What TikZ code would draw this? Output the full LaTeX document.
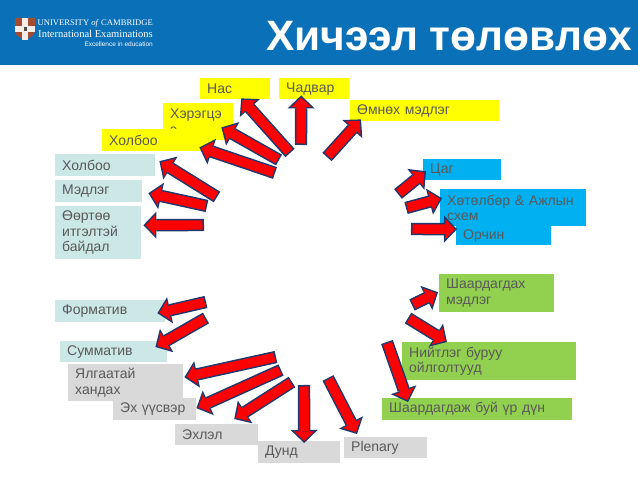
\documentclass[tikz,border=0pt]{standalone}
\usepackage{fontspec}
\setmainfont{Liberation Sans}
\newfontfamily\crestfont{Liberation Serif}
\usetikzlibrary{arrows.meta}
\definecolor{HeaderBlue}{RGB}{10,112,184}
\definecolor{LabelGray}{RGB}{89,89,89}
\definecolor{BoxYellow}{RGB}{255,255,0}
\definecolor{BoxTeal}{RGB}{204,232,230}
\definecolor{BoxGray}{RGB}{217,217,217}
\definecolor{BoxBlue}{RGB}{0,176,240}
\definecolor{BoxGreen}{RGB}{146,208,80}
\definecolor{ArrowNavy}{RGB}{31,56,110}
\definecolor{ShieldBrown}{RGB}{165,75,50}

\begin{document}
\begin{tikzpicture}[
                        x=1pt, y=-1pt,
                        planbox/.style={anchor=north west, inner xsep=7pt, inner ysep=0pt, align=left, text=LabelGray, font=\fontsize{14}{15.5}\selectfont},
                        yellowbox/.style={planbox, fill=BoxYellow},
                        tealbox/.style={planbox, fill=BoxTeal},
                        graybox/.style={planbox, fill=BoxGray},
                        bluebox/.style={planbox, fill=BoxBlue},
                        greenbox/.style={planbox, fill=BoxGreen},
                        redarrow/.style={draw=red, line width=9.4pt, shorten <=1.5pt, shorten >=2.1pt,
                            -{Triangle[length=9.6pt, width=20pt, line width=0pt]},
                            preaction={draw=ArrowNavy, line width=12.4pt, shorten <=0pt, shorten >=0pt,
                                -{Triangle[length=13pt, width=27pt, line width=0pt]}}},
                        crestline/.style={anchor=east, inner sep=0pt, text=white}
                    ]
                        \useasboundingbox (0,0) rectangle (638,478);
                        % header
                        \fill[HeaderBlue] (0,0) rectangle (638,65);
                        \fill[ShieldBrown] (15,18) -- (35,18) -- (35,31) .. controls (35,36) and (29,38) .. (25,40) .. controls (21,38) and (15,36) .. (15,31) -- cycle;
                        \fill[white!90!ShieldBrown] (22,18) rectangle (28,40);
                        \fill[white!90!ShieldBrown] (15,26) rectangle (35,32);
                        \fill[black!70] (23.5,27) rectangle (26.5,31);
                        \node[crestline, font=\crestfont\fontsize{8.6}{10}\selectfont] (crestone) at (153,23) {UNIVERSITY \textit{of} CAMBRIDGE};
                        \node[crestline, font=\crestfont\fontsize{10.55}{11}\selectfont] (cresttwo) at (153,33.5) {International Examinations};
                        \node[crestline, font=\fontsize{6.5}{8}\selectfont] (crestthree) at (153,44) {Excellence in education};
                        \node[anchor=east, inner sep=0pt, text=white, font=\fontsize{42.5}{44}\selectfont\bfseries] (title) at (632,36) {Хичээл төлөвлөх};
                        % yellow
                        \node[yellowbox, text width=56pt, minimum height=21pt] (nas) at (200,78) {Нас};
                        \node[yellowbox, text width=56pt, minimum height=21pt] (chadvar) at (279,78) {Чадвар};
                        \node[yellowbox, text width=135pt, minimum height=21pt] (omnokh) at (350,100) {Өмнөх мэдлэг};
                        \node[yellowbox, text width=56pt, minimum height=37pt] (kheregtse) at (163,103) {Хэрэгцэ\\э};
                        \node[yellowbox, text width=97pt, minimum height=22pt] (kholboob) at (102,129) {Холбоо};
                        % teal
                        \node[tealbox, text width=86pt, minimum height=22pt] (kholboo) at (55,154) {Холбоо};
                        \node[tealbox, text width=73pt, minimum height=22pt] (medleg) at (55,180) {Мэдлэг};
                        \node[tealbox, text width=72pt, minimum height=53pt] (oortoo) at (55,206) {Өөртөө\\итгэлтэй\\байдал};
                        \node[tealbox, text width=96pt, minimum height=22pt] (formativ) at (55,300) {Форматив};
                        \node[tealbox, text width=93pt, minimum height=21pt] (summativ) at (60,341) {Сумматив};
                        % gray
                        \node[graybox, text width=101pt, minimum height=37pt] (yalgaatai) at (68,364) {Ялгаатай\\хандах};
                        \node[graybox, text width=69pt, minimum height=22pt] (ekh) at (113,398) {Эх үүсвэр};
                        \node[graybox, text width=69pt, minimum height=21pt] (ekhlel) at (175,424) {Эхлэл};
                        \node[graybox, text width=68pt, minimum height=22pt] (dund) at (258,441) {Дунд};
                        \node[graybox, text width=69pt, minimum height=21pt] (plenary) at (344,437) {Plenary};
                        % blue
                        \node[bluebox, text width=64pt, minimum height=21pt] (tsag) at (423,159) {Цаг};
                        \node[bluebox, text width=132pt, minimum height=37pt] (khotolbor) at (440,189) {Хөтөлбөр \& Ажлын\\схем};
                        \node[bluebox, text width=81pt, minimum height=19pt] (orchin) at (456,226) {Орчин};
                        % green
                        \node[greenbox, text width=101pt, minimum height=38pt] (shaardlaga) at (439,274) {Шаардагдах\\мэдлэг};
                        \node[greenbox, text width=160pt, minimum height=38pt] (niitleg) at (402,342) {Нийтлэг буруу\\ойлголтууд};
                        \node[greenbox, text width=176pt, minimum height=22pt] (ur) at (382,398) {Шаардагдаж буй үр дүн};
                        % arrow tails
                        \coordinate (tchadvar) at (301,145);
                        \coordinate (tnas) at (290,153);
                        \coordinate (tkheregtse) at (279,160);
                        \coordinate (tkholboob) at (275,173);
                        \coordinate (tkholboo) at (217,197);
                        \coordinate (tmedleg) at (207,206);
                        \coordinate (toortoo) at (204,225);
                        \coordinate (tomnokh) at (327,157);
                        \coordinate (ttsag) at (398,194);
                        \coordinate (tkhotolbor) at (406,208);
                        \coordinate (torchin) at (411,229);
                        \coordinate (tshaardlaga) at (412,305);
                        \coordinate (tniitleg) at (408,318);
                        \coordinate (tur) at (387,342);
                        \coordinate (tplenary) at (328,378);
                        \coordinate (tdund) at (304,385);
                        \coordinate (tekhlel) at (292,382);
                        \coordinate (tekh) at (281,370);
                        \coordinate (tyalgaatai) at (276,357);
                        \coordinate (tsummativ) at (206,318);
                        \coordinate (tformativ) at (206,302);
                        % arrows
                        \draw[redarrow] (tchadvar) -- ([xshift=-13pt,yshift=4pt]chadvar.south);
                        \draw[redarrow] (tnas) -- ([xshift=6pt,yshift=1pt]nas.south);
                        \draw[redarrow] (tkheregtse) -- ([xshift=-12pt,yshift=13pt]kheregtse.south east);
                        \draw[redarrow] (tkholboob) -- ([xshift=-14pt,yshift=4pt]kholboob.south east);
                        \draw[redarrow] (tkholboo) -- ([xshift=4pt,yshift=4pt]kholboo.east);
                        \draw[redarrow] (tmedleg) -- ([xshift=6pt,yshift=-2pt]medleg.east);
                        \draw[redarrow] (toortoo) -- ([xshift=2pt,yshift=7.5pt]oortoo.east);
                        \draw[redarrow] (tomnokh) -- ([xshift=11pt,yshift=2pt]omnokh.south west);
                        \draw[redarrow] (ttsag) -- ([xshift=3pt,yshift=-1.5pt]tsag.west);
                        \draw[redarrow] (tkhotolbor) -- ([xshift=2pt,yshift=9.5pt]khotolbor.west);
                        \draw[redarrow] (torchin) -- ([xshift=1pt,yshift=6.5pt]orchin.west);
                        \draw[redarrow] (tshaardlaga) -- ([xshift=-1pt,yshift=1pt]shaardlaga.west);
                        \draw[redarrow] (tniitleg) -- ([xshift=45pt]niitleg.north west);
                        \draw[redarrow] (tur) -- ([xshift=26pt,yshift=-4pt]ur.north west);
                        \draw[redarrow] (tplenary) -- ([xshift=13pt,yshift=3pt]plenary.north west);
                        \draw[redarrow] (tdund) -- ([xshift=5pt,yshift=-2pt]dund.north);
                        \draw[redarrow] (tekhlel) -- ([xshift=17.5pt,yshift=5pt]ekhlel.north);
                        \draw[redarrow] (tekh) -- ([yshift=1pt]ekh.east);
                        \draw[redarrow] (tyalgaatai) -- ([xshift=1pt,yshift=5.5pt]yalgaatai.east);
                        \draw[redarrow] (tsummativ) -- ([xshift=-12pt,yshift=-6pt]summativ.north east);
                        \draw[redarrow] (tformativ) -- ([xshift=-8pt,yshift=-2pt]formativ.east);
                    \end{tikzpicture}
\end{document}
